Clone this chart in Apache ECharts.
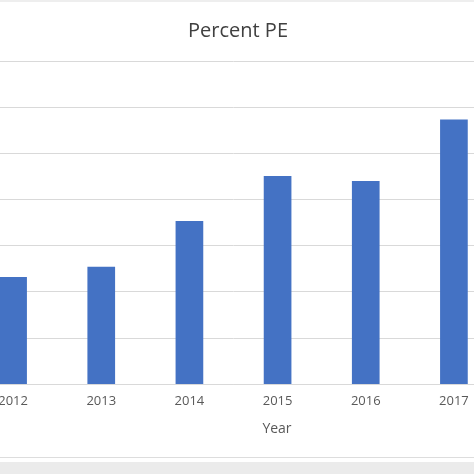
<!DOCTYPE html>
<html>
<head>
<meta charset="utf-8">
<script src="https://cdn.jsdelivr.net/npm/echarts@6/dist/echarts.min.js"></script>
<style>
html,body{margin:0;padding:0;background:#fff;overflow:hidden;width:474px;height:474px;}
#wrap{position:relative;width:474px;height:474px;overflow:hidden;}
#c{position:absolute;left:-31px;top:0;width:529px;height:474px;}
</style>
</head>
<body>
<div id="wrap"><div id="c"></div></div>
<script>
var categories = ['2012', '2013', '2014', '2015', '2016', '2017'];
var percentPE = [2.32, 2.54, 3.53, 4.51, 4.40, 5.73];
var titleText = 'Percent PE';
var xAxisName = 'Year';

var chart = echarts.init(document.getElementById('c'), null, {renderer: 'canvas'});
chart.setOption({
  animation: false,
  backgroundColor: '#ffffff',
  title: [
    {
      text: titleText,
      left: 264,
      top: 16,
      textAlign: 'center',
      textStyle: {fontFamily: 'Open Sans', fontSize: 20, fontWeight: 'normal', color: '#404040'}
    },
    {
      text: xAxisName,
      left: 303,
      top: 417,
      textAlign: 'center',
      textStyle: {fontFamily: 'Open Sans', fontSize: 14, fontWeight: 'normal', color: '#595959'}
    }
  ],
  grid: {left: 0, right: 0, top: 61, bottom: 90, containLabel: false},
  xAxis: {
    type: 'category',
    data: categories,
    axisLine: {show: true, lineStyle: {color: '#d9d9d9', width: 1}},
    axisTick: {show: false},
    axisLabel: {fontFamily: 'Open Sans', fontSize: 13, color: '#595959', margin: 11}
  },
  yAxis: {
    type: 'value',
    min: 0,
    max: 7,
    interval: 1,
    axisLabel: {show: false},
    axisLine: {show: false},
    axisTick: {show: false},
    splitLine: {lineStyle: {color: '#d9d9d9', width: 1}}
  },
  series: [{
    type: 'bar',
    data: percentPE,
    barWidth: '31.4%',
    itemStyle: {color: '#4472C4'}
  }],
  graphic: [
    {type: 'rect', shape: {x: 31, y: 0, width: 474, height: 2}, style: {fill: '#eeeeee'}},
    {type: 'line', shape: {x1: 31, y1: 457.5, x2: 505, y2: 457.5}, style: {stroke: '#dddddd', lineWidth: 1}},
    {type: 'rect', shape: {x: 31, y: 462, width: 474, height: 12}, style: {fill: '#ebebeb'}}
  ]
});
</script>
</body>
</html>
